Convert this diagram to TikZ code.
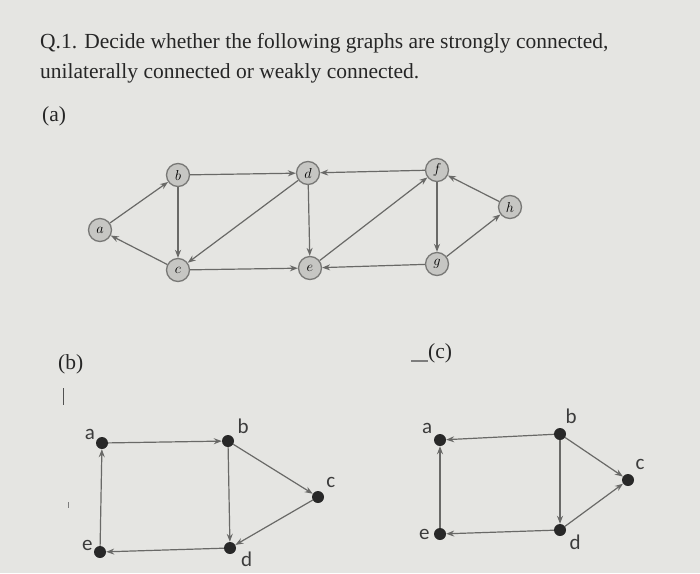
\documentclass[tikz,border=0pt]{standalone}
\usepackage{fontspec}
\setmainfont{Liberation Serif}
\newfontfamily\labfont{Carlito}
\usetikzlibrary{arrows.meta}

\definecolor{bgcol}{RGB}{229,229,226}
\definecolor{vtxfill}{RGB}{198,198,195}
\definecolor{vtxline}{RGB}{120,120,118}
\definecolor{edgecol}{RGB}{105,105,103}
\definecolor{dotcol}{RGB}{40,40,40}
\definecolor{inkcol}{RGB}{38,38,38}

\tikzset{
    vtx/.style={circle, draw=vtxline, fill=vtxfill, line width=1.3pt, minimum size=23pt, inner sep=0pt, font=\fontsize{14}{16}\selectfont},
    bdot/.style={circle, fill=dotcol, minimum size=12pt, inner sep=0pt},
    lab/.style={font=\labfont\fontsize{21}{24}\selectfont, text=inkcol!90, inner sep=1pt},
    arc/.style={draw=edgecol, line width=1.2pt, -{Stealth[length=8pt,width=6pt]}},
    txt/.style={anchor=base west, inner sep=0pt, text=inkcol, font=\fontsize{21.5}{30}\selectfont},
}

\begin{document}
\begin{tikzpicture}[x=1pt, y=-1pt]
    % Background
    \fill[bgcol] (0,0) rectangle (700,573);
    \useasboundingbox (0,0) rectangle (700,573);

    % Question text
    \node[txt] (q1) at (40,48) {Q.1. Decide whether the following graphs are strongly connected,};
    \node[txt] (q2) at (40,78) {unilaterally connected or weakly connected.};
    \node[txt] (pa) at (42,121) {(a)};
    \node[txt] (pb) at (58,369) {(b)};
    \node[txt] (pc) at (428,358) {(c)};
    \draw[inkcol!60, line width=1.2pt] (411,361) -- (428,361);

    % Stray marks
    \draw[inkcol!80, line width=0.8pt] (63,388) -- (63,405);
    \draw[inkcol!60, line width=0.8pt] (68,502) -- (68,508);

    % Graph (a) vertices
    \node[vtx] (a) at (100,230) {$a$};
    \node[vtx] (b) at (178,175) {$b$};
    \node[vtx] (c) at (178,270) {$c$};
    \node[vtx] (d) at (308,173) {$d$};
    \node[vtx] (e) at (310,268) {$e$};
    \node[vtx] (f) at (437,170) {$f$};
    \node[vtx] (g) at (437,264) {$g$};
    \node[vtx] (h) at (510,207) {$h$};

    % Graph (a) arcs
    \draw[arc] (a) -- (b);
    \draw[arc] (b) -- (c);
    \draw[arc] (c) -- (a);
    \draw[arc] (b) -- (d);
    \draw[arc] (d) -- (c);
    \draw[arc] (c) -- (e);
    \draw[arc] (d) -- (e);
    \draw[arc] (e) -- (f);
    \draw[arc] (f) -- (d);
    \draw[arc] (f) -- (g);
    \draw[arc] (g) -- (e);
    \draw[arc] (g) -- (h);
    \draw[arc] (h) -- (f);

    % Graph (b) vertices
    \node[bdot, label={[lab]160:a}] (ba) at (102,443) {};
    \node[bdot, label={[lab, label distance=4pt]35:b}] (bb) at (228,441) {};
    \node[bdot, label={[lab, label distance=5pt]50:c}] (bc) at (318,497) {};
    \node[bdot, label={[lab, label distance=4pt]-15:d}] (bd) at (230,548) {};
    \node[bdot, label={[lab]175:e}] (be) at (100,552) {};

    % Graph (b) arcs
    \draw[arc] (ba) -- (bb);
    \draw[arc] (bb) -- (bd);
    \draw[arc] (bb) -- (bc);
    \draw[arc] (bc) -- (bd);
    \draw[arc] (bd) -- (be);
    \draw[arc] (be) -- (ba);

    % Graph (c) vertices
    \node[bdot, label={[lab, label distance=2pt]145:a}] (ca) at (440,440) {};
    \node[bdot, label={[lab, label distance=4pt]65:b}] (cb) at (560,434) {};
    \node[bdot, label={[lab, label distance=5pt]55:c}] (cc) at (628,480) {};
    \node[bdot, label={[lab, label distance=3pt]-25:d}] (cd) at (560,530) {};
    \node[bdot, label={[lab, label distance=3pt]180:e}] (ce) at (440,534) {};

    % Graph (c) arcs
    \draw[arc] (cb) -- (ca);
    \draw[arc] (cb) -- (cd);
    \draw[arc] (cb) -- (cc);
    \draw[arc] (cd) -- (cc);
    \draw[arc] (cd) -- (ce);
    \draw[arc] (ce) -- (ca);
\end{tikzpicture}
\end{document}
